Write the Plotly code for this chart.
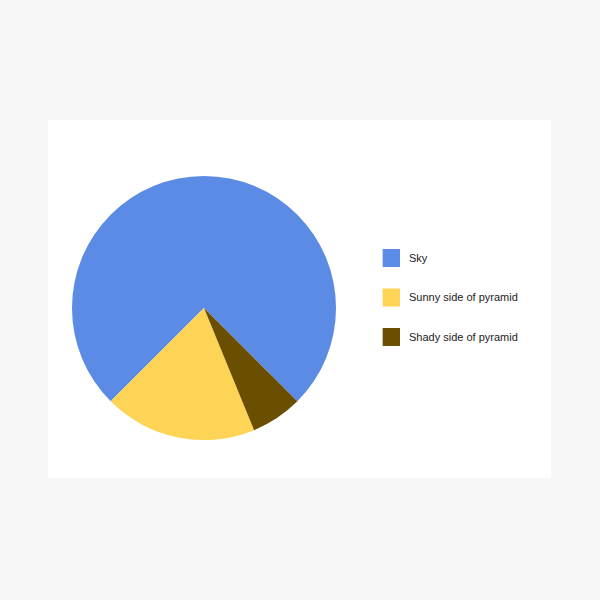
import plotly.graph_objects as go

labels = ["Sky", "Sunny side of pyramid", "Shady side of pyramid"]
values = [75, 18.7, 6.3]
colors = ["#5B8BE5", "#FDD455", "#6A4F00"]

fig = go.Figure()

fig.add_trace(go.Pie(
    labels=labels,
    values=values,
    sort=False,
    direction="counterclockwise",
    rotation=225,
    marker=dict(colors=colors, line=dict(width=0)),
    textinfo="none",
    hoverinfo="label+percent",
    showlegend=False,
    domain=dict(x=[0.0477, 0.5726], y=[0.106, 0.8436]),
))

# white card behind the chart
fig.add_shape(type="rect", xref="paper", yref="paper",
              x0=0, x1=1, y0=0, y1=1,
              fillcolor="white", line=dict(width=0), layer="below")

# legend drawn by hand so squares and spacing match the original
for i, (lab, col) in enumerate(zip(labels, colors)):
    yc = 0.6145 - i * 0.1103
    fig.add_shape(type="rect", xref="paper", yref="paper",
                  x0=0.6653, x1=0.6998, y0=yc - 0.0251, y1=yc + 0.0251,
                  fillcolor=col, line=dict(width=0))
    fig.add_annotation(x=0.7137, y=yc, xref="paper", yref="paper",
                       text=lab, showarrow=False, xanchor="left", yanchor="middle",
                       font=dict(family="Arial, Liberation Sans", size=11, color="#222222"))

fig.update_layout(
    width=600, height=600,
    margin=dict(l=48, r=49, t=120, b=122),
    paper_bgcolor="#F7F7F7",
    plot_bgcolor="white",
)

# drop the page's default body margin so the figure sits at the corner
fig.write_html("out.html",
               config={"displayModeBar": False},
               post_script="document.body.style.margin='0';document.body.style.background='#F7F7F7';")
